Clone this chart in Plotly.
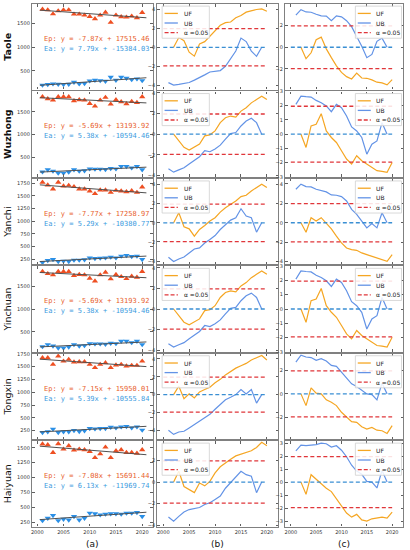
import plotly.graph_objects as go

YEARS = list(range(2001, 2021))
UB_YEARS = list(range(2001, 2020))
UF_YEARS = list(range(2002, 2021))
TICK_YEARS = [2000, 2005, 2010, 2015, 2020]

STATIONS = ["Taole", "Wuzhong", "Yanchi", "Yinchuan", "Tongxin", "Haiyuan"]

# fitted trends printed in column (a)
EP_SLOPE = [-7.87, -5.69, -7.77, -5.69, -7.15, -7.08]
EP_INTERCEPT = [17515.46, 13193.92, 17258.97, 13193.92, 15950.01, 15691.44]
EA_SLOPE = [7.79, 5.38, 5.29, 5.38, 5.39, 6.13]
EA_INTERCEPT = [-15384.03, -10594.46, -10380.77, -10594.46, -10555.84, -11969.74]

# column (a): yearly Ep / Ea
TAOLE_EP = [1789, 1776, 1693, 1755, 1776, 1776, 1686, 1686, 1665, 1638, 1590, 1665, 1727, 1514, 1665, 1631, 1624, 1645, 1610, 1720]
TAOLE_EA = [204, 218, 231, 224, 218, 224, 266, 231, 238, 293, 307, 300, 286, 369, 307, 369, 348, 321, 335, 300]
WUZHONG_EP = [1831, 1786, 1757, 1831, 1831, 1831, 1742, 1764, 1757, 1682, 1623, 1757, 1816, 1668, 1764, 1719, 1675, 1727, 1705, 1831]
WUZHONG_EA = [175, 220, 190, 146, 146, 168, 220, 190, 198, 242, 235, 235, 227, 249, 242, 294, 294, 264, 294, 220]
YANCHI_EP = [1765, 1712, 1632, 1765, 1692, 1705, 1679, 1632, 1632, 1593, 1540, 1613, 1613, 1566, 1606, 1593, 1579, 1599, 1566, 1672]
YANCHI_EA = [184, 223, 243, 203, 210, 203, 230, 230, 237, 276, 263, 270, 276, 290, 276, 310, 323, 303, 310, 243]
YINCHUAN_EP = [1831, 1786, 1757, 1831, 1831, 1831, 1742, 1764, 1757, 1682, 1623, 1757, 1816, 1668, 1764, 1719, 1675, 1727, 1705, 1831]
YINCHUAN_EA = [175, 220, 190, 146, 146, 168, 220, 190, 198, 242, 235, 235, 227, 249, 242, 294, 294, 264, 294, 220]
TONGXIN_EP = [1672, 1672, 1544, 1704, 1608, 1640, 1589, 1595, 1595, 1544, 1480, 1544, 1576, 1480, 1531, 1544, 1512, 1525, 1525, 1608]
TONGXIN_EA = [218, 231, 282, 218, 231, 231, 256, 237, 250, 295, 288, 295, 295, 320, 308, 327, 333, 308, 327, 263]
HAIYUAN_EP = [1563, 1551, 1420, 1568, 1478, 1534, 1461, 1478, 1466, 1437, 1334, 1397, 1512, 1334, 1449, 1466, 1420, 1420, 1409, 1466]
HAIYUAN_EA = [277, 318, 363, 277, 301, 289, 346, 289, 318, 404, 392, 375, 387, 392, 392, 387, 404, 404, 414, 346]

# column (b): Mann-Kendall UF / UB
TAOLE_B_UF = [0, 1.03, 0.69, -0.52, -0.93, 0.34, 0.59, 1.14, 1.72, 2.31, 2.59, 2.66, 3.10, 3.34, 3.69, 3.86, 3.97, 4.03, 3.79]
TAOLE_B_UB = [-3.72, -3.97, -3.90, -3.82, -3.70, -3.45, -3.20, -2.90, -2.60, -2.50, -2.45, -2.00, -1.20, -0.40, 0.97, 0.60, -0.40, -0.95, 0]
WUZHONG_B_UF = [0, -0.64, -1.28, -1.54, -1.28, -0.96, -0.16, -0.06, 0.32, 1.12, 1.60, 1.76, 1.66, 2.24, 2.56, 3.04, 3.36, 3.68, 3.36]
WUZHONG_B_UB = [-3.36, -3.68, -3.46, -3.26, -2.88, -2.50, -2.18, -1.60, -1.70, -1.44, -1.06, -0.48, 0.06, 0.16, 0.80, 1.28, 1.54, 1.12, 0]
YANCHI_B_UF = [0, 1.05, -0.42, -0.63, -1.40, -0.70, -0.28, 0.18, 0.53, 1.12, 1.58, 1.93, 2.28, 2.74, 2.88, 3.33, 3.68, 4.04, 3.68]
YANCHI_B_UB = [-3.61, -4.04, -3.79, -3.58, -3.16, -2.74, -2.63, -2.11, -1.75, -1.33, -0.70, -0.18, 0.28, 0.53, 1.47, 0.70, 0.53, -0.98, 0]
YINCHUAN_B_UF = [0, -0.64, -1.28, -1.54, -1.28, -0.96, -0.16, -0.06, 0.32, 1.12, 1.60, 1.76, 1.66, 2.24, 2.56, 3.04, 3.36, 3.68, 3.36]
YINCHUAN_B_UB = [-3.36, -3.68, -3.46, -3.26, -2.88, -2.50, -2.18, -1.60, -1.70, -1.44, -1.06, -0.48, 0.06, 0.16, 0.80, 1.28, 1.54, 1.12, 0]
TONGXIN_B_UF = [0, 0.95, -0.46, 0.08, -0.38, 0.30, 0.57, 0.84, 1.33, 1.71, 2.21, 2.59, 2.97, 3.24, 3.50, 3.89, 4.11, 4.38, 3.89]
TONGXIN_B_UB = [-4.00, -4.46, -4.19, -4.11, -3.73, -3.35, -2.97, -2.59, -2.21, -1.64, -1.07, -0.57, -0.30, 0, 0.57, 0.08, 0.57, -0.95, 0]
HAIYUAN_B_UF = [0, 1.00, -0.41, -0.66, -0.98, -0.09, -0.35, 0.06, 0.85, 1.42, 1.80, 2.11, 2.43, 2.58, 2.68, 2.90, 3.21, 3.69, 3.37]
HAIYUAN_B_UB = [-3.24, -3.62, -3.18, -2.77, -2.55, -2.49, -2.36, -2.08, -1.92, -1.61, -1.29, -0.57, -0.03, 0.44, 1.00, 0.69, 0.54, -0.98, 0]

# column (c): Mann-Kendall UF / UB
TAOLE_C_UF = [0, -1.05, -0.51, 0.69, 0.93, -0.15, -0.96, -1.71, -2.32, -2.71, -2.92, -2.38, -2.83, -2.86, -3.01, -3.22, -3.28, -3.46, -2.98]
TAOLE_C_UB = [2.95, 3.46, 3.25, 3.22, 3.04, 2.89, 2.86, 2.44, 2.89, 2.80, 2.44, 1.89, 0.99, 0.09, -0.96, -0.66, 0.54, 0.84, 0]
WUZHONG_C_UF = [0, -0.93, 0.58, 0.70, 1.44, 0.23, -0.23, -0.58, -1.16, -1.74, -2.09, -1.51, -1.86, -2.09, -2.28, -2.56, -2.60, -2.67, -1.98]
WUZHONG_C_UB = [2.09, 2.67, 2.63, 2.60, 2.37, 2.21, 1.98, 1.58, 2.09, 1.86, 1.28, 0.51, 0.23, -0.23, -1.40, -0.70, -0.47, 0.81, 0]
YANCHI_C_UF = [0, -0.97, 0.52, 0.17, 0.52, 0, -0.62, -1.38, -2.07, -2.59, -2.76, -2.83, -3.10, -3.28, -3.45, -3.62, -3.72, -3.97, -3.28]
YANCHI_C_UB = [3.45, 3.97, 3.72, 3.69, 3.45, 3.28, 3.17, 2.86, 2.83, 2.69, 2.24, 1.38, 0.86, 0.17, -0.52, -0.07, -0.52, 1.03, 0]
YINCHUAN_C_UF = [0, -0.93, 0.58, 0.70, 1.44, 0.23, -0.23, -0.58, -1.16, -1.74, -2.09, -1.51, -1.86, -2.09, -2.28, -2.56, -2.60, -2.67, -1.98]
YINCHUAN_C_UB = [2.09, 2.67, 2.63, 2.60, 2.37, 2.21, 1.98, 1.58, 2.09, 1.86, 1.28, 0.51, 0.23, -0.23, -1.40, -0.70, -0.47, 0.81, 0]
TONGXIN_C_UF = [0, -1.00, 0.51, 0.06, 0, -0.51, -0.71, -1.00, -1.57, -1.94, -2.37, -2.43, -2.80, -3.00, -2.86, -3.09, -3.14, -3.37, -2.71]
TONGXIN_C_UB = [2.71, 3.29, 3.14, 3.09, 2.86, 3.00, 2.80, 2.43, 2.34, 1.86, 1.29, 0.86, 0.63, 0.34, 0, -0.06, -0.51, 0.91, 0]
HAIYUAN_C_UF = [0, -0.94, 0.57, 0.23, -0.08, -0.47, -0.73, -1.25, -1.85, -2.38, -2.69, -2.48, -2.90, -3.00, -2.82, -2.77, -2.69, -2.77, -2.30]
HAIYUAN_C_UB = [2.40, 2.85, 2.80, 2.85, 2.88, 3.00, 2.95, 2.70, 2.80, 2.45, 1.95, 1.30, 0.85, 0.60, 0.05, 0.00, -0.45, 0.90, 0]

U_CRIT = 1.96

EP = [TAOLE_EP, WUZHONG_EP, YANCHI_EP, YINCHUAN_EP, TONGXIN_EP, HAIYUAN_EP]
EA = [TAOLE_EA, WUZHONG_EA, YANCHI_EA, YINCHUAN_EA, TONGXIN_EA, HAIYUAN_EA]
B_UF = [TAOLE_B_UF, WUZHONG_B_UF, YANCHI_B_UF, YINCHUAN_B_UF, TONGXIN_B_UF, HAIYUAN_B_UF]
B_UB = [TAOLE_B_UB, WUZHONG_B_UB, YANCHI_B_UB, YINCHUAN_B_UB, TONGXIN_B_UB, HAIYUAN_B_UB]
C_UF = [TAOLE_C_UF, WUZHONG_C_UF, YANCHI_C_UF, YINCHUAN_C_UF, TONGXIN_C_UF, HAIYUAN_C_UF]
C_UB = [TAOLE_C_UB, WUZHONG_C_UB, YANCHI_C_UB, YINCHUAN_C_UB, TONGXIN_C_UB, HAIYUAN_C_UB]

# axis ranges per row
A_RANGE = [[110, 1900], [60, 1950], [145, 1835], [60, 1950], [85, 1755], [176, 1615]]
A_DTICK = [500, 500, 250, 500, 250, 250]
B_RANGE = [[-4.45, 4.55], [-4.15, 4.15], [-4.35, 4.6], [-4.15, 4.15], [-5.0, 4.6], [-4.13, 3.81]]
C_RANGE = [[-3.9, 3.98], [-3.0, 3.0], [-4.28, 4.52], [-3.0, 3.0], [-3.86, 3.43], [-3.42, 3.16]]
C_DTICK = [2, 1, 2, 1, 2, 1]

EP_COLOR = "#ee4f22"
EA_COLOR = "#2a8fe6"
UF_COLOR = "#f5a623"
UB_COLOR = "#6393e6"
CRIT_COLOR = "#e0363a"
ZERO_COLOR = "#3a8fd3"

W, H = 410, 550
COL_PX = [(32, 152.7), (157.3, 278.3), (285, 403.3)]
ROW_TOP, ROW_H, ROW_GAP = 4, 85.6, 1.8

fig = go.Figure()


def sid(k):
    return "" if k == 1 else str(k)


axis_style = dict(showline=True, linecolor="#808080", linewidth=1.3, mirror="ticks",
                  ticks="inside", ticklen=2.5, tickwidth=0.8, tickcolor="#606060",
                  showgrid=False, zeroline=False, automargin=False,
                  tickfont=dict(size=5, color="#333333", family="DejaVu Sans"))


def add_legend(k, right):
    xr, yr = "x%s domain" % sid(k), "y%s domain" % sid(k)
    bx = [0.595, 0.985] if right else [0.04, 0.43]
    fig.add_shape(type="rect", xref=xr, yref=yr, x0=bx[0], x1=bx[1], y0=0.60, y1=0.975,
                  fillcolor="rgba(255,255,255,0.85)", line=dict(color="#cfcfcf", width=0.8))
    items = [("UF", UF_COLOR, "solid"), ("UB", UB_COLOR, "solid"), ("α =0.05", CRIT_COLOR, "4px,2px")]
    for i, (name, color, dash) in enumerate(items):
        yy = 0.89 - i * 0.112
        fig.add_shape(type="line", xref=xr, yref=yr, x0=bx[0] + 0.02, x1=bx[0] + 0.13,
                      y0=yy, y1=yy, line=dict(color=color, width=1.3, dash=dash))
        fig.add_annotation(xref=xr, yref=yr, x=bx[0] + 0.16, y=yy, text=name, showarrow=False,
                           xanchor="left", yanchor="middle",
                           font=dict(size=6, color="#222222", family="DejaVu Sans"))


for r in range(6):
    top = ROW_TOP + r * (ROW_H + ROW_GAP)
    ydom = [1 - (top + ROW_H) / H, 1 - top / H]
    for c in range(3):
        k = r * 3 + c + 1
        xdom = [COL_PX[c][0] / W, COL_PX[c][1] / W]
        xrange = [1999, 2022] if c == 0 else [1998.85, 2022.2]
        fig.layout["xaxis" + sid(k)] = dict(axis_style, domain=xdom, range=xrange, anchor="y" + sid(k),
                                           tickvals=TICK_YEARS, showticklabels=(r == 5))
        if c == 0:
            title = "<b>%s</b>" % STATIONS[r] if r < 2 else STATIONS[r]
            fig.layout["yaxis" + sid(k)] = dict(axis_style, domain=ydom, range=A_RANGE[r], dtick=A_DTICK[r],
                                               anchor="x" + sid(k),
                                               title=dict(text=title, standoff=3,
                                                          font=dict(size=9.5, color="#111111",
                                                                    family="DejaVu Sans")))
        elif c == 1:
            fig.layout["yaxis" + sid(k)] = dict(axis_style, domain=ydom, range=B_RANGE[r], dtick=2,
                                               anchor="x" + sid(k))
        else:
            fig.layout["yaxis" + sid(k)] = dict(axis_style, domain=ydom, range=C_RANGE[r], dtick=C_DTICK[r],
                                               anchor="x" + sid(k))

        xa, ya = "x" + sid(k), "y" + sid(k)
        if c == 0:
            span = [YEARS[0] - 0.5, YEARS[-1] + 0.8]
            for vals, slope, icpt, color, sym in [(EP[r], EP_SLOPE[r], EP_INTERCEPT[r], EP_COLOR, "triangle-up"),
                                                  (EA[r], EA_SLOPE[r], EA_INTERCEPT[r], EA_COLOR, "triangle-down")]:
                fig.add_trace(go.Scatter(x=YEARS, y=vals, mode="markers", xaxis=xa, yaxis=ya,
                                         marker=dict(symbol=sym, size=5.5, color=color), showlegend=False))
                fig.add_trace(go.Scatter(x=span, y=[slope * v + icpt for v in span], mode="lines",
                                         xaxis=xa, yaxis=ya, line=dict(color="#505050", width=1),
                                         showlegend=False))
            fig.add_annotation(xref=xa + " domain", yref=ya + " domain", x=0.985, y=0.59,
                               xanchor="right", yanchor="middle", showarrow=False,
                               text="Ep: y = %.2fx + %.2f" % (EP_SLOPE[r], EP_INTERCEPT[r]),
                               font=dict(size=7, color="#e8602c", family="DejaVu Sans Mono"))
            fig.add_annotation(xref=xa + " domain", yref=ya + " domain", x=0.985, y=0.475,
                               xanchor="right", yanchor="middle", showarrow=False,
                               text="Ea: y = %.2fx + %.2f" % (EA_SLOPE[r], EA_INTERCEPT[r]),
                               font=dict(size=7, color="#3b9be0", family="DejaVu Sans Mono"))
        else:
            uf = B_UF[r] if c == 1 else C_UF[r]
            ub = B_UB[r] if c == 1 else C_UB[r]
            span = [UB_YEARS[0] - 1, UF_YEARS[-1]]
            fig.add_trace(go.Scatter(x=UF_YEARS, y=uf, mode="lines", xaxis=xa, yaxis=ya,
                                     line=dict(color=UF_COLOR, width=1.2), showlegend=False))
            fig.add_trace(go.Scatter(x=UB_YEARS, y=ub, mode="lines", xaxis=xa, yaxis=ya,
                                     line=dict(color=UB_COLOR, width=1.2), showlegend=False))
            for lvl, color in [(U_CRIT, CRIT_COLOR), (-U_CRIT, CRIT_COLOR), (0, ZERO_COLOR)]:
                fig.add_trace(go.Scatter(x=span, y=[lvl, lvl], mode="lines", xaxis=xa, yaxis=ya,
                                         line=dict(color=color, width=1.3, dash="4px,2.5px"),
                                         showlegend=False))
            add_legend(k, right=(c == 2))

for label, c in [("(a)", 0), ("(b)", 1), ("(c)", 2)]:
    fig.add_annotation(xref="paper", yref="paper", x=(COL_PX[c][0] + COL_PX[c][1]) / 2 / W, y=6 / H,
                       text=label, showarrow=False, xanchor="center", yanchor="middle",
                       font=dict(size=9, color="#111111", family="DejaVu Sans"))

fig.update_layout(width=W, height=H, margin=dict(l=0, r=0, t=0, b=0),
                  paper_bgcolor="white", plot_bgcolor="white", showlegend=False)

# the page body has a default 8px margin; drop it so the 410x550 figure fills the window
fig.write_html("out.html", config={"displayModeBar": False},
               post_script="document.body.style.margin = '0px';")
